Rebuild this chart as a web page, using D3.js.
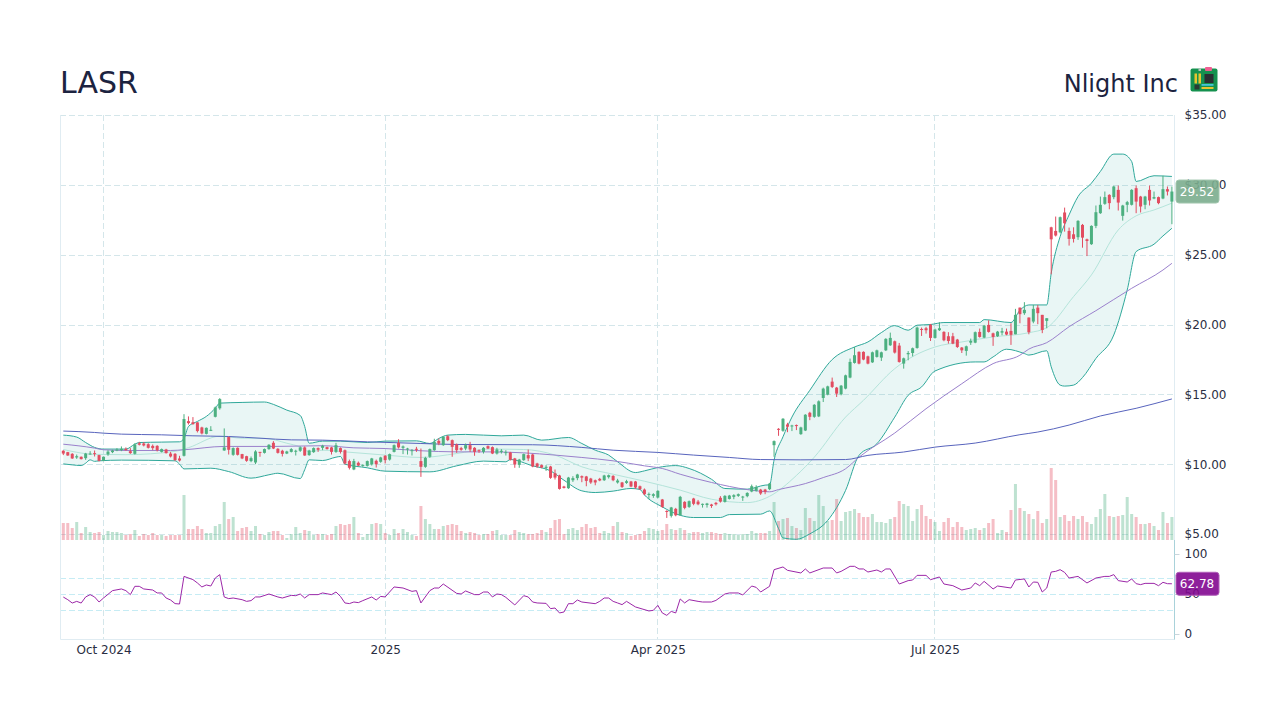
<!DOCTYPE html>
<html>
<head>
<meta charset="utf-8">
<title>LASR</title>
<script src="https://cdnjs.cloudflare.com/ajax/libs/d3/7.8.5/d3.min.js"></script>
<style>
    html, body { margin: 0; padding: 0; background: #fff; }
    svg { display: block; }
    text { font-family: "DejaVu Sans", sans-serif; }
</style>
</head>
<body>
<svg class="chart" width="1280" height="720"></svg>
<script>
// daily sessions, index 0 = first candle
const opens = [
    10.96,10.86,10.74,10.48,10.53,10.43,10.72,10.79,10.65,10.24,
    10.7,10.86,10.98,11.0,11.1,10.93,10.74,11.5,11.48,11.43,
    11.31,11.31,10.88,11.05,10.76,10.74,10.41,10.6,13.08,13.0,
    12.99,12.63,12.17,12.41,13.39,14.0,10.98,11.94,10.67,11.17,
    10.72,10.57,10.22,10.12,10.88,10.81,11.08,11.53,11.1,10.96,
    10.76,10.88,10.91,10.96,11.2,10.65,10.86,11.15,11.17,11.22,
    11.2,10.88,11.15,11.0,10.22,9.62,10.1,9.9,9.88,9.98,
    10.24,10.17,10.6,10.33,10.88,11.53,11.17,11.08,10.96,11.1,
    10.22,9.81,10.53,11.0,11.67,11.36,12.0,11.72,11.41,11.15,
    11.12,11.36,11.17,11.0,10.88,11.29,11.22,10.76,10.88,10.81,
    10.84,10.41,9.95,10.29,10.65,10.69,10.05,9.93,9.74,9.83,
    9.35,9.19,8.4,8.28,8.85,9.0,9.14,9.12,8.97,8.85,
    8.95,8.85,9.07,9.16,8.69,8.69,8.66,8.76,8.76,8.42,
    8.18,7.8,7.73,7.61,7.47,6.65,6.3,6.8,6.34,7.3,
    6.94,7.54,7.32,7.11,7.08,7.11,7.23,7.59,7.3,7.51,
    7.66,7.73,7.61,7.71,8.04,8.09,8.18,8.18,8.21,11.36,
    12.53,12.39,12.84,12.72,12.8,12.15,12.41,13.68,13.39,13.42,
    14.74,14.98,15.91,15.48,15.0,15.41,16.2,17.25,18.04,18.04,
    17.72,17.29,17.68,17.63,18.15,18.51,18.8,18.49,17.2,17.87,
    17.96,18.32,19.68,19.73,19.99,19.04,19.59,19.47,19.16,19.16,
    18.92,18.35,18.11,18.7,18.7,19.47,19.06,19.97,19.37,19.16,
    19.42,19.49,19.54,19.3,21.21,20.81,20.5,20.21,21.21,20.69,
    20.26,26.96,26.7,26.6,28.02,26.7,26.46,26.25,27.13,26.1,
    25.75,27.06,27.97,28.64,29.28,29.12,29.64,27.78,28.57,28.57,
    29.76,29.16,28.57,29.64,29.02,29.12,29.02,29.69,28.8
];
const closes = [
    10.76,10.62,10.41,10.57,10.36,10.76,10.76,10.72,10.24,10.53,
    10.9,10.98,11.05,11.1,11.0,10.79,11.41,11.39,11.34,11.17,
    11.15,11.0,11.08,10.79,10.55,10.29,10.26,13.23,12.94,12.87,
    12.37,12.2,12.6,12.46,14.06,14.66,11.2,11.03,11.15,10.67,
    10.41,10.24,10.43,10.91,10.81,11.08,11.39,11.12,10.81,10.74,
    10.91,11.08,10.96,11.2,10.62,10.98,11.15,11.03,11.32,11.08,
    10.88,11.36,10.88,10.05,9.74,10.22,9.9,9.95,10.22,10.41,
    10.0,10.48,10.29,10.72,11.36,11.2,11.27,11.12,11.0,11.05,
    9.81,10.45,11.08,11.6,11.48,11.96,11.72,11.24,11.0,11.03,
    11.36,11.05,10.88,10.93,11.17,11.12,10.76,11.05,10.96,10.86,
    10.31,9.98,10.33,10.72,10.41,9.83,9.83,9.76,9.81,9.02,
    9.04,8.23,8.3,9.04,9.0,9.26,9.04,8.8,8.69,8.69,
    8.83,9.19,9.21,8.85,8.83,8.37,8.78,8.4,8.33,8.21,
    7.85,7.87,7.85,8.09,6.94,6.58,6.9,6.34,7.66,6.87,
    7.35,7.16,7.13,7.16,7.18,7.01,7.13,7.32,7.73,7.75,
    7.78,7.85,7.68,7.94,8.42,8.37,7.9,8.02,8.61,11.65,
    12.49,13.25,12.68,12.77,12.75,12.63,13.54,13.39,14.25,14.5,
    15.41,15.57,15.53,15.05,15.62,16.36,17.32,17.8,17.2,17.49,
    17.2,18.01,18.15,18.01,18.97,19.04,17.99,17.32,17.58,17.96,
    18.3,19.78,19.64,19.59,19.04,19.64,19.73,18.87,18.82,18.63,
    18.39,18.15,18.44,18.82,19.45,19.11,19.92,19.47,19.11,19.49,
    19.52,19.28,19.26,20.69,20.74,21.05,19.45,21.12,20.81,19.61,
    20.45,26.1,26.37,27.68,27.25,26.13,26.13,27.42,26.22,25.98,
    27.06,28.04,28.57,29.12,28.69,29.88,28.73,28.52,28.76,29.64,
    28.8,28.45,29.16,28.88,29.12,28.69,29.69,29.52,29.52
];
const highs = [
    11.0,10.88,10.79,10.69,10.55,10.81,10.93,10.98,10.67,10.55,
    11.0,11.03,11.15,11.27,11.2,11.15,11.5,11.6,11.58,11.5,
    11.41,11.36,11.12,11.1,10.88,10.79,10.6,13.58,13.42,13.37,
    13.01,12.68,12.63,12.72,14.13,14.73,12.56,11.98,11.2,11.2,
    10.74,10.6,10.55,11.0,10.88,11.12,11.43,11.65,11.15,11.03,
    10.96,11.15,11.03,11.27,11.27,11.03,11.2,11.2,11.39,11.25,
    11.24,11.53,11.2,11.05,10.33,10.38,10.19,9.98,10.26,10.45,
    10.33,10.53,10.65,10.76,11.41,11.79,11.34,11.17,11.08,11.24,
    11.12,10.53,11.12,11.82,11.84,12.0,12.08,11.77,11.48,11.24,
    11.48,11.6,11.22,11.05,11.22,11.34,11.27,11.17,11.08,11.0,
    10.88,10.45,10.38,10.76,11.05,10.74,10.1,9.98,9.93,9.88,
    9.62,9.24,8.45,9.09,9.14,9.31,9.19,9.16,9.02,8.9,
    9.02,9.24,9.26,9.21,8.95,8.73,8.88,8.8,8.8,8.47,
    8.26,7.97,7.92,8.14,7.51,6.7,6.94,6.87,7.73,7.35,
    7.4,7.59,7.44,7.18,7.23,7.16,7.3,7.71,7.78,7.8,
    7.85,7.9,7.73,7.99,8.54,8.49,8.23,8.23,8.66,11.7,
    12.58,13.3,12.96,12.82,12.84,12.68,13.58,13.75,14.3,14.57,
    15.48,15.62,16.2,15.53,15.67,16.41,17.56,18.39,18.08,18.08,
    17.77,18.06,18.2,18.06,19.02,19.42,18.85,18.68,17.63,18.1,
    18.35,19.85,19.78,19.83,20.04,19.71,20.16,19.52,19.45,19.4,
    18.97,18.39,18.49,18.99,19.5,19.71,19.97,20.3,19.42,19.54,
    19.76,19.71,20.09,21.12,21.21,21.6,20.5,21.4,21.4,20.69,
    20.45,27.0,27.73,27.73,28.37,26.94,26.96,27.47,27.2,26.15,
    27.1,28.52,29.16,29.52,29.33,29.93,29.95,28.57,28.85,29.69,
    29.95,29.21,29.21,29.95,29.52,29.16,30.65,29.88,29.88
];
const lows = [
    10.65,10.6,10.38,10.38,10.34,10.31,10.69,10.55,10.2,10.22,
    10.6,10.79,10.93,10.93,10.96,10.74,10.69,11.34,11.27,11.12,
    11.0,10.91,10.84,10.76,10.48,10.24,10.19,10.55,12.84,12.82,
    12.27,12.13,12.13,12.37,13.35,13.9,10.96,10.69,10.6,10.62,
    10.36,10.17,10.14,10.0,10.53,10.76,11.03,11.08,10.76,10.55,
    10.72,10.84,10.62,10.88,10.6,10.6,10.81,10.88,11.0,11.05,
    10.69,10.81,10.76,9.98,9.62,9.57,9.86,9.81,9.83,9.9,
    9.76,10.1,10.05,10.26,10.84,11.12,10.72,10.69,10.62,10.88,
    9.09,9.74,10.45,10.96,11.36,11.31,11.65,10.53,10.81,10.96,
    11.0,10.88,10.6,10.81,10.76,11.08,10.72,10.69,10.76,10.62,
    10.26,9.74,9.74,10.24,10.22,9.78,9.74,9.71,9.52,8.95,
    8.9,8.18,8.26,8.23,8.73,8.85,8.71,8.42,8.59,8.49,
    8.78,8.8,8.97,8.78,8.61,8.3,8.59,8.35,8.23,8.16,
    7.78,7.51,7.59,7.56,6.87,6.15,6.18,6.27,6.32,6.77,
    6.87,7.06,7.06,6.89,6.89,6.87,7.04,7.25,7.25,7.47,
    7.49,7.66,7.37,7.63,7.99,8.04,7.8,7.85,8.14,10.53,
    12.03,12.32,12.29,12.37,12.44,12.1,12.37,13.15,13.32,13.37,
    14.45,14.93,15.45,14.81,14.93,15.36,16.15,17.2,17.15,17.44,
    17.15,17.25,17.63,17.39,18.1,18.47,17.92,17.27,16.84,17.44,
    17.72,18.27,19.18,19.35,18.82,18.99,19.54,18.8,18.63,18.59,
    18.32,17.96,17.77,18.54,18.66,19.06,19.02,19.42,18.47,19.11,
    19.23,19.23,18.54,19.3,20.09,20.69,19.3,20.09,20.02,19.38,
    19.73,23.6,26.3,26.53,26.65,25.65,25.87,26.06,25.5,24.9,
    25.7,26.9,27.92,28.57,28.25,28.97,28.16,27.44,28.04,28.52,
    27.97,28.02,28.25,28.52,28.97,28.61,28.97,29.24,27.18
];
// relative share volume, tallest bar = 72
const volumes = [
    17,17,12,18,7,13,8,7,8,5,9,8,8,7,5,6,10,4,6,5,
    7,5,5,4,5,5,5,45,11,11,14,11,7,7,14,16,38,21,23,9,
    12,13,9,14,6,5,8,9,9,5,2,6,13,7,10,9,5,6,6,5,
    6,14,16,15,16,23,7,3,6,16,17,16,7,5,11,7,11,8,5,4,
    34,21,16,11,11,14,15,16,15,9,7,8,7,5,6,6,9,10,5,5,
    5,10,8,7,6,6,7,10,8,12,20,21,6,11,12,10,13,16,12,13,
    7,9,7,14,18,8,7,4,5,6,9,12,11,9,10,16,11,10,12,10,
    7,8,8,7,8,8,7,6,7,6,6,5,6,6,9,7,7,7,9,38,
    19,21,22,14,12,10,32,22,19,45,34,19,20,41,19,28,29,31,27,23,
    23,26,18,18,17,21,23,39,36,34,19,31,35,24,21,18,9,18,22,13,
    18,13,10,11,12,10,12,17,21,7,10,8,30,56,32,29,26,21,29,17,
    21,72,60,23,25,19,24,21,24,18,16,23,31,46,24,23,24,25,43,26,
    23,16,16,17,14,10,28,17,23
];
// [session, value] read at the visible corners of each line
const bbUpper = [
    [0,12.08],[3,11.94],[5,11.55],[7,11.2],[9,11.08],[14,11.08],[16,11.43],[17,11.55],[22,11.58],[26,11.6],
    [27,11.84],[28,12.7],[30,13.06],[32,13.42],[34,14.0],[35,14.37],[40,14.42],[45,14.45],[47,14.28],[50,13.87],
    [53,13.49],[54,12.7],[55,11.5],[58,11.65],[62,11.65],[68,11.55],[72,11.65],[79,11.67],[82,11.48],[84,11.84],
    [86,12.08],[90,12.13],[98,12.03],[103,12.08],[107,11.72],[113,11.91],[116,11.48],[119,11.0],[122,10.65],[124,10.17],
    [128,9.4],[130,9.52],[133,9.76],[137,9.9],[140,9.69],[145,8.92],[148,8.26],[153,8.21],[157,8.5],[158,8.52],
    [159,10.29],[161,11.96],[163,13.37],[167,15.29],[172,17.49],[177,18.39],[180,18.75],[183,19.42],[186,19.92],[189,19.59],
    [191,19.95],[194,20.0],[197,20.14],[205,20.14],[206,20.35],[212,20.14],[214,21.02],[216,21.4],[220,21.4],[221,23.67],
    [223,26.3],[225,27.85],[227,29.16],[230,30.12],[232,30.96],[235,32.2],[237,32.2],[239,31.67],[240,30.24],[244,30.65],[248,30.6]
];
const bbLower = [
    [0,10.02],[2,9.95],[4,9.9],[5,10.07],[6,10.31],[7,10.2],[8,10.24],[13,10.29],[25,10.24],[26,10.0],
    [27,9.66],[33,9.71],[37,9.47],[42,9.0],[46,9.24],[48,9.35],[53,8.97],[54,9.6],[55,10.31],[58,10.26],
    [61,10.5],[62,10.55],[63,10.0],[68,9.74],[72,9.5],[82,9.45],[88,9.88],[94,10.22],[99,10.17],[100,10.33],
    [105,9.88],[109,9.52],[112,8.85],[116,8.09],[119,7.97],[123,8.07],[127,8.26],[129,8.19],[130,7.8],[134,6.94],
    [138,6.34],[141,6.18],[147,6.18],[149,6.39],[156,6.42],[158,6.65],[160,5.39],[161,4.72],[164,4.62],[167,5.01],
    [171,5.97],[175,8.12],[178,10.63],[182,11.46],[186,13.37],[189,14.93],[192,15.53],[195,16.67],[204,17.32],[206,17.32],
    [208,17.68],[211,18.23],[215,17.92],[216,17.81],[220,18.12],[221,16.97],[223,15.66],[224,15.59],[226,15.66],[228,16.2],
    [231,17.57],[235,19.25],[238,22.47],[240,25.22],[244,25.75],[246,26.34],[248,26.89]
];
const bbMiddle = [
    [0,11.05],[3,10.85],[7,10.7],[14,10.68],[25,10.92],[28,11.18],[35,12.0],[40,11.86],[45,11.85],[50,11.5],
    [53,11.23],[55,10.9],[58,11.0],[63,10.88],[72,10.65],[80,10.48],[88,10.76],[95,11.08],[103,11.05],[110,10.65],
    [116,9.81],[123,9.28],[130,8.78],[138,8.14],[145,7.49],[153,7.25],[158,7.7],[164,9.19],[168,10.5],[175,13.37],
    [179,14.57],[186,16.84],[195,18.39],[201,18.75],[208,19.11],[216,19.41],[220,19.77],[226,22.0],[230,23.55],[236,26.77],
    [240,27.78],[244,28.2],[248,28.69]
];
const sma50 = [
    [0,11.43],[7,11.15],[9,11.03],[14,10.98],[24,10.98],[27,11.03],[36,11.27],[47,11.27],[58,11.32],[65,11.17],
    [72,11.12],[80,10.96],[88,10.88],[95,10.88],[103,10.81],[110,10.65],[116,10.48],[123,10.24],[130,9.88],[134,9.69],
    [138,9.28],[145,8.69],[153,8.18],[158,8.02],[160,8.18],[166,8.61],[170,9.04],[175,9.67],[178,10.5],[186,12.23],
    [193,13.97],[201,15.76],[208,17.2],[214,17.8],[216,18.24],[220,18.7],[225,19.84],[231,20.99],[239,22.59],[246,23.9],[248,24.38]
];
const sma200 = [
    [0,12.37],[7,12.27],[9,12.22],[13,12.15],[22,12.1],[29,12.03],[37,11.98],[44,11.86],[51,11.74],[58,11.72],
    [68,11.6],[80,11.48],[88,11.41],[105,11.39],[116,11.2],[123,11.0],[133,10.84],[141,10.65],[149,10.48],[156,10.33],
    [165,10.31],[175,10.33],[180,10.63],[188,10.87],[195,11.22],[204,11.51],[214,12.11],[218,12.3],[225,12.8],[232,13.45],[240,14.0],[248,14.67]
];
const rsi = [
    [0,46.2],[1,42.9],[2,38.7],[3,40.8],[4,38.7],[5,46.3],[6,49.2],[7,46.3],[8,40],[9,45],[11,54.2],[13,56.3],[14,54.2],[15,49.2],
    [16,59.6],[17,59.6],[18,56.3],[20,55],[21,51.3],[22,51.3],[23,45],[24,42.5],[25,38],[26,37.5],[27,72],[29,68],[30,63.8],[31,58.8],
    [32,61.3],[33,60],[34,70],[35,74.2],[36,46.3],[37,44.2],[38,45],[40,42.9],[41,40.8],[42,41.7],[43,46.3],[44,46.3],[46,50],[48,46.3],
    [49,45],[51,48.3],[52,47.9],[53,50],[54,45],[55,49.2],[57,49.2],[58,51.3],[60,49.2],[61,52.5],[62,47],[63,38.8],[64,38],[65,40],
    [66,39.2],[67,41.7],[69,46.3],[70,42.5],[71,47],[72,46.3],[74,58.8],[76,57.5],[78,53.3],[79,54.2],[80,38.8],[82,54.2],[83,57.5],[84,57.5],
    [85,62.5],[88,50.8],[89,50],[90,53.8],[92,49.2],[93,49.2],[94,52.5],[95,52.5],[96,46.3],[97,50],[98,49.2],[99,45.8],[101,36.3],[103,47.9],
    [104,46.3],[105,40],[106,38.8],[108,38.3],[109,31.7],[110,32.5],[111,26.3],[112,27.5],[113,37.9],[114,37.9],[115,42.5],[116,40],[119,37.9],[120,40.8],
    [121,45],[122,45],[123,40.8],[124,38.8],[125,36.7],[126,40.8],[128,33.8],[131,28.8],[132,29.6],[133,35.8],[134,26.3],[135,23.3],[136,28.3],[137,26.3],
    [138,43.8],[139,38.8],[140,42.9],[142,40.8],[143,40],[145,40],[146,42],[148,50],[149,51.3],[151,51.3],[152,48.8],[154,60],[155,58.3],[156,52.5],
    [158,59.6],[159,80.4],[161,83.8],[162,79.6],[165,76.3],[166,81.3],[167,76.3],[170,82.5],[172,82.5],[173,76.3],[174,78.3],[176,84.6],[177,84.6],[178,81.3],
    [179,81.3],[180,77.5],[182,80],[183,77.5],[184,81.3],[185,81.3],[187,62.5],[189,66.7],[190,67.5],[191,73.3],[193,73.3],[194,67.9],[196,71.3],[197,62.5],
    [199,60.4],[201,55],[203,57.5],[204,63.8],[205,60.4],[206,65.8],[208,56.3],[209,60],[212,57.5],[213,67.5],[215,68.8],[216,58.8],[217,65],[218,64.6],
    [219,52.5],[220,57.5],[221,77.5],[222,78.3],[223,80.4],[224,77],[225,70],[227,72],[229,63.8],[231,70],[233,72],[234,72],[235,74.2],[236,66.7],
    [238,65],[239,68.8],[240,62.9],[241,61.7],[242,63.3],[244,63.3],[245,60.4],[246,64.6],[247,62.9],[248,62.78]
];

const priceTicks = [5, 10, 15, 20, 25, 30, 35];
const rsiTicks = [0, 50, 100];
const rsiGrid = [30, 50, 70];
const timeTicks = [9, 72, 133, 195];
const timeLabels = ["Oct 2024", "2025", "Apr 2025", "Jul 2025"];
const lastPrice = 29.52;
const lastRsi = 62.78;

const upColor = "#4cb080";
const downColor = "#e24c60";
const textColor = "#2a2e42";
const gridColor = "#d4e6ea";
const rsiGridColor = "#c6ecf4";

const paneLeft = 60, paneRight = 1174.5, paneTop = 115, chartBottom = 639.5, paneBottom = 540;

const svg = d3.select("svg.chart");

const x = d3.scaleLinear().domain([0, 248]).range([63.3, 1171.9]);
const yPrice = d3.scaleLinear().domain([5, 35]).range([534, 115]);
const yVolume = d3.scaleLinear().domain([0, d3.max(volumes)]).range([paneBottom, 468]);
const yRsi = d3.scaleLinear().domain([0, 100]).range([634, 554]);

svg.append("defs").append("clipPath")
    .attr("id", "pricePane")
    .append("rect")
    .attr("x", paneLeft)
    .attr("y", paneTop)
    .attr("width", paneRight - paneLeft)
    .attr("height", paneBottom - paneTop);

// header
svg.append("text")
    .attr("x", 60)
    .attr("y", 93)
    .attr("font-size", 30)
    .attr("fill", "#1c2340")
    .text("LASR");

svg.append("text")
    .attr("x", 1178)
    .attr("y", 91.5)
    .attr("text-anchor", "end")
    .attr("font-size", 24)
    .attr("fill", "#1c2340")
    .text("Nlight Inc");

function drawIcon() {

    let icon = svg.append("g").attr("class", "icon");
    let parts = [
        [1190.5, 68.5, 27, 23, "#15914f", 2],
        [1205, 67, 7, 4, "#ee5f91", 1],
        [1198.5, 68.5, 2.5, 2.5, "#b9c4bd", 0],
        [1194.5, 73.5, 2.5, 10, "#e7c52f", 0],
        [1198.5, 73.5, 2.5, 10, "#e7c52f", 0],
        [1204.5, 74, 9, 9, "#2b2f33", 0],
        [1194.5, 84.5, 5, 5, "#2b3a33", 0],
        [1201.5, 84, 12, 1.8, "#45c4d6", 0],
        [1201.5, 87, 12, 2, "#e7c52f", 0]
    ];

    parts.forEach((p) => {

        icon.append("rect")
            .attr("x", p[0])
            .attr("y", p[1])
            .attr("width", p[2])
            .attr("height", p[3])
            .attr("rx", p[5])
            .attr("fill", p[4]);
    });
}

function drawGrid() {

    let grid = svg.append("g").attr("class", "grid");

    priceTicks.forEach((t) => {

        grid.append("line")
            .attr("x1", paneLeft)
            .attr("x2", paneRight)
            .attr("y1", Math.round(yPrice(t)) + 0.5)
            .attr("y2", Math.round(yPrice(t)) + 0.5)
            .attr("stroke", gridColor)
            .attr("stroke-dasharray", "6,3");
    });

    rsiGrid.forEach((t) => {

        grid.append("line")
            .attr("x1", paneLeft)
            .attr("x2", paneRight)
            .attr("y1", Math.round(yRsi(t)) + 0.5)
            .attr("y2", Math.round(yRsi(t)) + 0.5)
            .attr("stroke", rsiGridColor)
            .attr("stroke-dasharray", "6,3");
    });

    timeTicks.forEach((t) => {

        grid.append("line")
            .attr("x1", Math.floor(x(t)) + 0.5)
            .attr("x2", Math.floor(x(t)) + 0.5)
            .attr("y1", paneTop)
            .attr("y2", chartBottom)
            .attr("stroke", gridColor)
            .attr("stroke-dasharray", "6,3");
    });

    grid.append("path")
        .attr("d", `M${paneLeft + 0.5},${paneTop}V${chartBottom}H${paneRight}V${paneTop}`)
        .attr("fill", "none")
        .attr("stroke", "#e0ecf2");

    grid.append("line")
        .attr("x1", paneRight)
        .attr("x2", paneRight)
        .attr("y1", paneBottom)
        .attr("y2", chartBottom)
        .attr("stroke", "#a9d2da");
}

function drawVolume() {

    svg.append("g")
        .attr("class", "volume")
        .selectAll("rect")
        .data(volumes)
        .join("rect")
        .attr("x", (d, i) => x(i) - 1.5)
        .attr("y", (d) => yVolume(d))
        .attr("width", 3)
        .attr("height", (d) => paneBottom - yVolume(d))
        .attr("fill", (d, i) => closes[i] >= opens[i] ? upColor : downColor)
        .attr("fill-opacity", 0.36);
}

function drawBands() {

    let pane = svg.append("g")
        .attr("class", "bands")
        .attr("clip-path", "url(#pricePane)");

    let line = d3.line()
        .x((d) => x(d[0]))
        .y((d) => yPrice(d[1]))
        .curve(d3.curveMonotoneX);

    let lowerBack = line(bbLower.slice().reverse());

    pane.append("path")
        .attr("d", line(bbUpper) + "L" + lowerBack.slice(1) + "Z")
        .attr("fill", "#26a69a")
        .attr("fill-opacity", 0.1);

    pane.append("path")
        .attr("d", line(bbMiddle))
        .attr("fill", "none")
        .attr("stroke", "#b4e4da")
        .attr("stroke-width", 1);

    pane.append("path")
        .attr("d", line(bbUpper))
        .attr("fill", "none")
        .attr("stroke", "#2fa89a")
        .attr("stroke-width", 1);

    pane.append("path")
        .attr("d", line(bbLower))
        .attr("fill", "none")
        .attr("stroke", "#2fa89a")
        .attr("stroke-width", 1);

    pane.append("path")
        .attr("d", line(sma50))
        .attr("fill", "none")
        .attr("stroke", "#9a80cc")
        .attr("stroke-width", 1);

    pane.append("path")
        .attr("d", line(sma200))
        .attr("fill", "none")
        .attr("stroke", "#5864bd")
        .attr("stroke-width", 1);
}

function drawCandles() {

    let candles = svg.append("g")
        .attr("class", "candles")
        .selectAll("g")
        .data(opens)
        .join("g")
        .attr("fill", (d, i) => closes[i] >= d ? upColor : downColor);

    candles.append("rect")
        .attr("x", (d, i) => x(i) - 0.5)
        .attr("y", (d, i) => yPrice(highs[i]))
        .attr("width", 1)
        .attr("height", (d, i) => yPrice(lows[i]) - yPrice(highs[i]));

    candles.append("rect")
        .attr("x", (d, i) => x(i) - 1.5)
        .attr("y", (d, i) => yPrice(Math.max(d, closes[i])))
        .attr("width", 3)
        .attr("height", (d, i) => Math.max(1, Math.abs(yPrice(d) - yPrice(closes[i]))));
}

function drawRsi() {

    let line = d3.line()
        .x((d) => x(d[0]))
        .y((d) => yRsi(d[1]));

    svg.append("path")
        .attr("class", "rsi")
        .attr("d", line(rsi))
        .attr("fill", "none")
        .attr("stroke", "#9c27a8")
        .attr("stroke-width", 1);
}

function drawAxes() {

    let priceAxis = d3.axisRight(yPrice)
        .tickValues(priceTicks)
        .tickFormat(d3.format("$.2f"))
        .tickSize(0)
        .tickPadding(10);

    let rsiAxis = d3.axisRight(yRsi)
        .tickValues(rsiTicks)
        .tickSize(5)
        .tickPadding(5);

    let timeAxis = d3.axisBottom(x)
        .tickValues(timeTicks)
        .tickFormat((d, i) => timeLabels[i])
        .tickSize(0)
        .tickPadding(6);

    let groups = [
        svg.append("g").attr("transform", `translate(${paneRight},0)`).call(priceAxis),
        svg.append("g").attr("transform", `translate(${paneRight},0)`).call(rsiAxis),
        svg.append("g").attr("transform", `translate(0,${chartBottom})`).call(timeAxis)
    ];

    groups.forEach((g) => {

        g.select(".domain").remove();
        g.selectAll("text")
            .attr("fill", textColor)
            .attr("font-size", 12)
            .attr("font-family", '"DejaVu Sans", sans-serif');
        g.selectAll("line").attr("stroke", "#c9d6dc");
    });
}

// the box lets the axis label under it show through slightly
function drawLastLabel(value, y, fill, stroke) {

    svg.append("rect")
        .attr("x", 1176)
        .attr("y", y - 11.5)
        .attr("width", 43)
        .attr("height", 23)
        .attr("rx", 3)
        .attr("fill", fill)
        .attr("fill-opacity", 0.9)
        .attr("stroke", stroke)
        .attr("stroke-width", 1);

    svg.append("text")
        .attr("x", 1197)
        .attr("y", y + 4.5)
        .attr("text-anchor", "middle")
        .attr("font-size", 12)
        .attr("fill", "#fff")
        .text(value.toFixed(2));
}

drawIcon();
drawGrid();
drawVolume();
drawBands();
drawCandles();
drawRsi();
drawAxes();
drawLastLabel(lastPrice, yPrice(lastPrice), "#7bad8e", "#a3c7af");
drawLastLabel(lastRsi, yRsi(lastRsi), "#820890", "#b060b8");
</script>
</body>
</html>
